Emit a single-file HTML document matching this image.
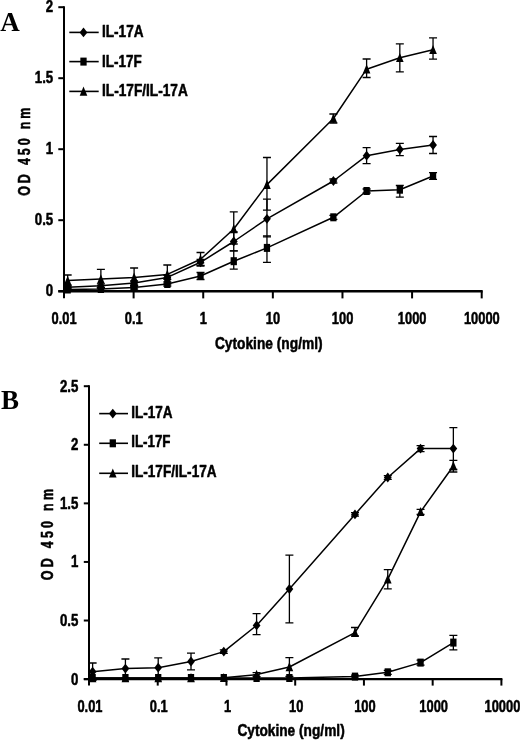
<!DOCTYPE html>
<html><head><meta charset="utf-8"><title>Figure</title>
<style>html,body{margin:0;padding:0;background:#fff}svg{display:block}</style>
</head><body>
<svg width="520" height="740" viewBox="0 0 520 740" fill="#000">
<rect width="520" height="740" fill="#fff"/>
<path d="M64.0,6.2V298.2" stroke="#000" stroke-width="2" fill="none"/>
<path d="M58.3,291.2H482.7" stroke="#000" stroke-width="2.4" fill="none"/>
<path d="M58.3,291.2H64.0" stroke="#000" stroke-width="2"/>
<text transform="translate(53.2,296.4) scale(0.78,1)" text-anchor="end" font-size="17" font-family="Liberation Sans, Arial, sans-serif" font-weight="bold" stroke="#000" stroke-width="0.55" stroke-linejoin="round" >0</text>
<path d="M58.3,220.2H64.0" stroke="#000" stroke-width="2"/>
<text transform="translate(53.2,225.4) scale(0.78,1)" text-anchor="end" font-size="17" font-family="Liberation Sans, Arial, sans-serif" font-weight="bold" stroke="#000" stroke-width="0.55" stroke-linejoin="round" >0.5</text>
<path d="M58.3,149.2H64.0" stroke="#000" stroke-width="2"/>
<text transform="translate(53.2,154.4) scale(0.78,1)" text-anchor="end" font-size="17" font-family="Liberation Sans, Arial, sans-serif" font-weight="bold" stroke="#000" stroke-width="0.55" stroke-linejoin="round" >1</text>
<path d="M58.3,78.2H64.0" stroke="#000" stroke-width="2"/>
<text transform="translate(53.2,83.4) scale(0.78,1)" text-anchor="end" font-size="17" font-family="Liberation Sans, Arial, sans-serif" font-weight="bold" stroke="#000" stroke-width="0.55" stroke-linejoin="round" >1.5</text>
<path d="M58.3,7.2H64.0" stroke="#000" stroke-width="2"/>
<text transform="translate(53.2,12.4) scale(0.78,1)" text-anchor="end" font-size="17" font-family="Liberation Sans, Arial, sans-serif" font-weight="bold" stroke="#000" stroke-width="0.55" stroke-linejoin="round" >2</text>
<text transform="translate(64.1,323.9) scale(0.745,1)" text-anchor="middle" font-size="17.3" font-family="Liberation Sans, Arial, sans-serif" font-weight="bold" stroke="#000" stroke-width="0.55" stroke-linejoin="round" >0.01</text>
<path d="M133.62,291.2V298.4" stroke="#000" stroke-width="2"/>
<text transform="translate(133.72,323.9) scale(0.745,1)" text-anchor="middle" font-size="17.3" font-family="Liberation Sans, Arial, sans-serif" font-weight="bold" stroke="#000" stroke-width="0.55" stroke-linejoin="round" >0.1</text>
<path d="M203.23,291.2V298.4" stroke="#000" stroke-width="2"/>
<text transform="translate(203.33,323.9) scale(0.745,1)" text-anchor="middle" font-size="17.3" font-family="Liberation Sans, Arial, sans-serif" font-weight="bold" stroke="#000" stroke-width="0.55" stroke-linejoin="round" >1</text>
<path d="M272.85,291.2V298.4" stroke="#000" stroke-width="2"/>
<text transform="translate(272.95,323.9) scale(0.745,1)" text-anchor="middle" font-size="17.3" font-family="Liberation Sans, Arial, sans-serif" font-weight="bold" stroke="#000" stroke-width="0.55" stroke-linejoin="round" >10</text>
<path d="M342.47,291.2V298.4" stroke="#000" stroke-width="2"/>
<text transform="translate(342.57,323.9) scale(0.745,1)" text-anchor="middle" font-size="17.3" font-family="Liberation Sans, Arial, sans-serif" font-weight="bold" stroke="#000" stroke-width="0.55" stroke-linejoin="round" >100</text>
<path d="M412.08,291.2V298.4" stroke="#000" stroke-width="2"/>
<text transform="translate(412.18,323.9) scale(0.745,1)" text-anchor="middle" font-size="17.3" font-family="Liberation Sans, Arial, sans-serif" font-weight="bold" stroke="#000" stroke-width="0.55" stroke-linejoin="round" >1000</text>
<path d="M481.7,291.2V298.4" stroke="#000" stroke-width="2"/>
<text transform="translate(481.8,323.9) scale(0.745,1)" text-anchor="middle" font-size="17.3" font-family="Liberation Sans, Arial, sans-serif" font-weight="bold" stroke="#000" stroke-width="0.55" stroke-linejoin="round" >10000</text>
<text x="214.9" y="348.7" font-size="17" font-family="Liberation Sans, Arial, sans-serif" font-weight="bold" stroke="#000" stroke-width="0.55" stroke-linejoin="round" textLength="107.7" lengthAdjust="spacingAndGlyphs">Cytokine (ng/ml)</text>
<text transform="translate(30.3,195.8) rotate(-90) scale(0.78,1.065)" font-size="16" font-family="Liberation Sans, Arial, sans-serif" font-weight="bold" stroke="#000" stroke-width="0.55" stroke-linejoin="round" letter-spacing="3.7">OD 450 nm</text>
<text x="0.3" y="31" font-size="27" font-family="Liberation Serif, Times New Roman, serif" font-weight="bold">A</text>
<polyline points="67.67,289.5 100.88,289 134.1,287.5 167.32,284 200.53,276 233.75,261.2 266.96,247.9 333.39,217.3 366.61,191 399.82,189.7 433.04,176" fill="none" stroke="#000" stroke-width="1.5" stroke-linejoin="round"/>
<path d="M67.67,288V291M63.67,288H71.67M63.67,291H71.67" fill="none" stroke="#000" stroke-width="1.3"/>
<path d="M100.88,287.5V290.5M96.88,287.5H104.88M96.88,290.5H104.88" fill="none" stroke="#000" stroke-width="1.3"/>
<path d="M134.1,286V289M130.1,286H138.1M130.1,289H138.1" fill="none" stroke="#000" stroke-width="1.3"/>
<path d="M167.32,282V286M163.32,282H171.32M163.32,286H171.32" fill="none" stroke="#000" stroke-width="1.3"/>
<path d="M200.53,272.5V279.5M196.53,272.5H204.53M196.53,279.5H204.53" fill="none" stroke="#000" stroke-width="1.3"/>
<path d="M233.75,250.8V269.2M229.75,250.8H237.75M229.75,269.2H237.75" fill="none" stroke="#000" stroke-width="1.3"/>
<path d="M266.96,235.9V262.3M262.96,235.9H270.96M262.96,262.3H270.96" fill="none" stroke="#000" stroke-width="1.3"/>
<path d="M333.39,215.3V219.3M329.39,215.3H337.39M329.39,219.3H337.39" fill="none" stroke="#000" stroke-width="1.3"/>
<path d="M366.61,189V193M362.61,189H370.61M362.61,193H370.61" fill="none" stroke="#000" stroke-width="1.3"/>
<path d="M399.82,185.5V197.2M395.82,185.5H403.82M395.82,197.2H403.82" fill="none" stroke="#000" stroke-width="1.3"/>
<path d="M433.04,172.6V179.4M429.04,172.6H437.04M429.04,179.4H437.04" fill="none" stroke="#000" stroke-width="1.3"/>
<rect x="64.52" y="285.5" width="6.3" height="8"/>
<rect x="97.73" y="285" width="6.3" height="8"/>
<rect x="130.95" y="283.5" width="6.3" height="8"/>
<rect x="164.17" y="280" width="6.3" height="8"/>
<rect x="197.38" y="272" width="6.3" height="8"/>
<rect x="230.6" y="257.2" width="6.3" height="8"/>
<rect x="263.81" y="243.9" width="6.3" height="8"/>
<rect x="330.24" y="213.3" width="6.3" height="8"/>
<rect x="363.46" y="187" width="6.3" height="8"/>
<rect x="396.67" y="185.7" width="6.3" height="8"/>
<rect x="429.89" y="172" width="6.3" height="8"/>
<polyline points="67.67,287.2 100.88,285.8 134.1,283 167.32,277.4 200.53,262.3 233.75,241.5 266.96,218.8 333.39,181 366.61,155.7 399.82,149.5 433.04,145" fill="none" stroke="#000" stroke-width="1.5" stroke-linejoin="round"/>
<path d="M67.67,285.2V289.2M63.67,285.2H71.67M63.67,289.2H71.67" fill="none" stroke="#000" stroke-width="1.3"/>
<path d="M100.88,283.8V287.8M96.88,283.8H104.88M96.88,287.8H104.88" fill="none" stroke="#000" stroke-width="1.3"/>
<path d="M134.1,281V285M130.1,281H138.1M130.1,285H138.1" fill="none" stroke="#000" stroke-width="1.3"/>
<path d="M167.32,275.4V279.4M163.32,275.4H171.32M163.32,279.4H171.32" fill="none" stroke="#000" stroke-width="1.3"/>
<path d="M200.53,259.3V265.3M196.53,259.3H204.53M196.53,265.3H204.53" fill="none" stroke="#000" stroke-width="1.3"/>
<path d="M233.75,232V250.8M229.75,232H237.75M229.75,250.8H237.75" fill="none" stroke="#000" stroke-width="1.3"/>
<path d="M266.96,199.1V236.9M262.96,199.1H270.96M262.96,236.9H270.96" fill="none" stroke="#000" stroke-width="1.3"/>
<path d="M333.39,179V183M329.39,179H337.39M329.39,183H337.39" fill="none" stroke="#000" stroke-width="1.3"/>
<path d="M366.61,147.7V163.7M362.61,147.7H370.61M362.61,163.7H370.61" fill="none" stroke="#000" stroke-width="1.3"/>
<path d="M399.82,143.3V155.7M395.82,143.3H403.82M395.82,155.7H403.82" fill="none" stroke="#000" stroke-width="1.3"/>
<path d="M433.04,136.5V153.5M429.04,136.5H437.04M429.04,153.5H437.04" fill="none" stroke="#000" stroke-width="1.3"/>
<polygon points="67.67,282.3 71.57,287.2 67.67,292.1 63.77,287.2"/>
<polygon points="100.88,280.9 104.78,285.8 100.88,290.7 96.98,285.8"/>
<polygon points="134.1,278.1 138,283 134.1,287.9 130.2,283"/>
<polygon points="167.32,272.5 171.22,277.4 167.32,282.3 163.42,277.4"/>
<polygon points="200.53,257.4 204.43,262.3 200.53,267.2 196.63,262.3"/>
<polygon points="233.75,236.6 237.65,241.5 233.75,246.4 229.85,241.5"/>
<polygon points="266.96,213.9 270.86,218.8 266.96,223.7 263.06,218.8"/>
<polygon points="333.39,176.1 337.29,181 333.39,185.9 329.49,181"/>
<polygon points="366.61,150.8 370.51,155.7 366.61,160.6 362.71,155.7"/>
<polygon points="399.82,144.6 403.72,149.5 399.82,154.4 395.92,149.5"/>
<polygon points="433.04,140.1 436.94,145 433.04,149.9 429.14,145"/>
<polyline points="67.67,280.6 100.88,279.1 134.1,277.5 167.32,274.4 200.53,259.3 233.75,229 266.96,184.6 333.39,118.5 366.61,69.2 399.82,57.8 433.04,49.8" fill="none" stroke="#000" stroke-width="1.5" stroke-linejoin="round"/>
<path d="M67.67,275V286M63.67,275H71.67M63.67,286H71.67" fill="none" stroke="#000" stroke-width="1.3"/>
<path d="M100.88,269.4V288M96.88,269.4H104.88M96.88,288H104.88" fill="none" stroke="#000" stroke-width="1.3"/>
<path d="M134.1,268V286M130.1,268H138.1M130.1,286H138.1" fill="none" stroke="#000" stroke-width="1.3"/>
<path d="M167.32,265V284M163.32,265H171.32M163.32,284H171.32" fill="none" stroke="#000" stroke-width="1.3"/>
<path d="M200.53,252.5V266M196.53,252.5H204.53M196.53,266H204.53" fill="none" stroke="#000" stroke-width="1.3"/>
<path d="M233.75,211.8V244M229.75,211.8H237.75M229.75,244H237.75" fill="none" stroke="#000" stroke-width="1.3"/>
<path d="M266.96,157.5V210.2M262.96,157.5H270.96M262.96,210.2H270.96" fill="none" stroke="#000" stroke-width="1.3"/>
<path d="M333.39,114V123M329.39,114H337.39M329.39,123H337.39" fill="none" stroke="#000" stroke-width="1.3"/>
<path d="M366.61,59V77.5M362.61,59H370.61M362.61,77.5H370.61" fill="none" stroke="#000" stroke-width="1.3"/>
<path d="M399.82,43.8V71.8M395.82,43.8H403.82M395.82,71.8H403.82" fill="none" stroke="#000" stroke-width="1.3"/>
<path d="M433.04,37.8V59.2M429.04,37.8H437.04M429.04,59.2H437.04" fill="none" stroke="#000" stroke-width="1.3"/>
<polygon points="67.67,275.7 71.47,284.9 63.87,284.9"/>
<polygon points="100.88,274.2 104.68,283.4 97.08,283.4"/>
<polygon points="134.1,272.6 137.9,281.8 130.3,281.8"/>
<polygon points="167.32,269.5 171.12,278.7 163.52,278.7"/>
<polygon points="200.53,254.4 204.33,263.6 196.73,263.6"/>
<polygon points="233.75,224.1 237.55,233.3 229.95,233.3"/>
<polygon points="266.96,179.7 270.76,188.9 263.16,188.9"/>
<polygon points="333.39,113.6 337.19,122.8 329.59,122.8"/>
<polygon points="366.61,64.3 370.41,73.5 362.81,73.5"/>
<polygon points="399.82,52.9 403.62,62.1 396.02,62.1"/>
<polygon points="433.04,44.9 436.84,54.1 429.24,54.1"/>
<line x1="69.3" y1="32.4" x2="98.7" y2="32.4" stroke="#000" stroke-width="1.6"/>
<polygon points="83.5,27.5 87.4,32.4 83.5,37.3 79.6,32.4"/>
<text x="102" y="37" font-size="17" font-family="Liberation Sans, Arial, sans-serif" font-weight="bold" stroke="#000" stroke-width="0.55" stroke-linejoin="round" textLength="41.6" lengthAdjust="spacingAndGlyphs">IL-17A</text>
<line x1="69.3" y1="61.6" x2="98.7" y2="61.6" stroke="#000" stroke-width="1.6"/>
<rect x="80.35" y="57.6" width="6.3" height="8"/>
<text x="102" y="66.8" font-size="17" font-family="Liberation Sans, Arial, sans-serif" font-weight="bold" stroke="#000" stroke-width="0.55" stroke-linejoin="round" textLength="39.6" lengthAdjust="spacingAndGlyphs">IL-17F</text>
<line x1="69.3" y1="91.4" x2="98.7" y2="91.4" stroke="#000" stroke-width="1.6"/>
<polygon points="83.5,86.5 87.3,95.7 79.7,95.7"/>
<text x="102" y="96.2" font-size="17" font-family="Liberation Sans, Arial, sans-serif" font-weight="bold" stroke="#000" stroke-width="0.55" stroke-linejoin="round" textLength="85.8" lengthAdjust="spacingAndGlyphs">IL-17F/IL-17A</text>
<path d="M89.0,385.2V685.4" stroke="#000" stroke-width="2" fill="none"/>
<path d="M83.8,679.1H502.4" stroke="#000" stroke-width="2.4" fill="none"/>
<path d="M83.8,679.1H89.0" stroke="#000" stroke-width="2"/>
<text transform="translate(78.4,684.5) scale(0.78,1)" text-anchor="end" font-size="17" font-family="Liberation Sans, Arial, sans-serif" font-weight="bold" stroke="#000" stroke-width="0.55" stroke-linejoin="round" >0</text>
<path d="M83.8,620.52H89.0" stroke="#000" stroke-width="2"/>
<text transform="translate(78.4,625.92) scale(0.78,1)" text-anchor="end" font-size="17" font-family="Liberation Sans, Arial, sans-serif" font-weight="bold" stroke="#000" stroke-width="0.55" stroke-linejoin="round" >0.5</text>
<path d="M83.8,561.94H89.0" stroke="#000" stroke-width="2"/>
<text transform="translate(78.4,567.34) scale(0.78,1)" text-anchor="end" font-size="17" font-family="Liberation Sans, Arial, sans-serif" font-weight="bold" stroke="#000" stroke-width="0.55" stroke-linejoin="round" >1</text>
<path d="M83.8,503.36H89.0" stroke="#000" stroke-width="2"/>
<text transform="translate(78.4,508.76) scale(0.78,1)" text-anchor="end" font-size="17" font-family="Liberation Sans, Arial, sans-serif" font-weight="bold" stroke="#000" stroke-width="0.55" stroke-linejoin="round" >1.5</text>
<path d="M83.8,444.78H89.0" stroke="#000" stroke-width="2"/>
<text transform="translate(78.4,450.18) scale(0.78,1)" text-anchor="end" font-size="17" font-family="Liberation Sans, Arial, sans-serif" font-weight="bold" stroke="#000" stroke-width="0.55" stroke-linejoin="round" >2</text>
<path d="M83.8,386.2H89.0" stroke="#000" stroke-width="2"/>
<text transform="translate(78.4,391.6) scale(0.78,1)" text-anchor="end" font-size="17" font-family="Liberation Sans, Arial, sans-serif" font-weight="bold" stroke="#000" stroke-width="0.55" stroke-linejoin="round" >2.5</text>
<text transform="translate(90,711.6) scale(0.745,1)" text-anchor="middle" font-size="17.3" font-family="Liberation Sans, Arial, sans-serif" font-weight="bold" stroke="#000" stroke-width="0.55" stroke-linejoin="round" >0.01</text>
<path d="M157.73,679.1V685.6" stroke="#000" stroke-width="2"/>
<text transform="translate(158.73,711.6) scale(0.745,1)" text-anchor="middle" font-size="17.3" font-family="Liberation Sans, Arial, sans-serif" font-weight="bold" stroke="#000" stroke-width="0.55" stroke-linejoin="round" >0.1</text>
<path d="M226.47,679.1V685.6" stroke="#000" stroke-width="2"/>
<text transform="translate(227.47,711.6) scale(0.745,1)" text-anchor="middle" font-size="17.3" font-family="Liberation Sans, Arial, sans-serif" font-weight="bold" stroke="#000" stroke-width="0.55" stroke-linejoin="round" >1</text>
<path d="M295.2,679.1V685.6" stroke="#000" stroke-width="2"/>
<text transform="translate(296.2,711.6) scale(0.745,1)" text-anchor="middle" font-size="17.3" font-family="Liberation Sans, Arial, sans-serif" font-weight="bold" stroke="#000" stroke-width="0.55" stroke-linejoin="round" >10</text>
<path d="M363.93,679.1V685.6" stroke="#000" stroke-width="2"/>
<text transform="translate(364.93,711.6) scale(0.745,1)" text-anchor="middle" font-size="17.3" font-family="Liberation Sans, Arial, sans-serif" font-weight="bold" stroke="#000" stroke-width="0.55" stroke-linejoin="round" >100</text>
<path d="M432.67,679.1V685.6" stroke="#000" stroke-width="2"/>
<text transform="translate(433.67,711.6) scale(0.745,1)" text-anchor="middle" font-size="17.3" font-family="Liberation Sans, Arial, sans-serif" font-weight="bold" stroke="#000" stroke-width="0.55" stroke-linejoin="round" >1000</text>
<path d="M501.4,679.1V685.6" stroke="#000" stroke-width="2"/>
<text transform="translate(502.4,711.6) scale(0.745,1)" text-anchor="middle" font-size="17.3" font-family="Liberation Sans, Arial, sans-serif" font-weight="bold" stroke="#000" stroke-width="0.55" stroke-linejoin="round" >10000</text>
<text x="237.4" y="735.5" font-size="17" font-family="Liberation Sans, Arial, sans-serif" font-weight="bold" stroke="#000" stroke-width="0.55" stroke-linejoin="round" textLength="107.3" lengthAdjust="spacingAndGlyphs">Cytokine (ng/ml)</text>
<text transform="translate(52.9,580.3) rotate(-90) scale(0.78,1.065)" font-size="16" font-family="Liberation Sans, Arial, sans-serif" font-weight="bold" stroke="#000" stroke-width="0.55" stroke-linejoin="round" letter-spacing="4.2">OD 450 nm</text>
<text x="1" y="409" font-size="27" font-family="Liberation Serif, Times New Roman, serif" font-weight="bold">B</text>
<polyline points="92.62,678 125.42,678 158.21,678 191,678 223.8,678 256.59,678 289.39,678 354.98,676.6 387.77,672.3 420.56,662.6 453.36,642.6" fill="none" stroke="#000" stroke-width="1.5" stroke-linejoin="round"/>
<path d="M354.98,675.1V678.1M350.98,675.1H358.98M350.98,678.1H358.98" fill="none" stroke="#000" stroke-width="1.3"/>
<path d="M387.77,670.3V674.3M383.77,670.3H391.77M383.77,674.3H391.77" fill="none" stroke="#000" stroke-width="1.3"/>
<path d="M420.56,660.1V665.1M416.56,660.1H424.56M416.56,665.1H424.56" fill="none" stroke="#000" stroke-width="1.3"/>
<path d="M453.36,635.3V649.9M449.36,635.3H457.36M449.36,649.9H457.36" fill="none" stroke="#000" stroke-width="1.3"/>
<rect x="89.47" y="674" width="6.3" height="8"/>
<rect x="122.27" y="674" width="6.3" height="8"/>
<rect x="155.06" y="674" width="6.3" height="8"/>
<rect x="187.85" y="674" width="6.3" height="8"/>
<rect x="220.65" y="674" width="6.3" height="8"/>
<rect x="253.44" y="674" width="6.3" height="8"/>
<rect x="286.24" y="674" width="6.3" height="8"/>
<rect x="351.83" y="672.6" width="6.3" height="8"/>
<rect x="384.62" y="668.3" width="6.3" height="8"/>
<rect x="417.41" y="658.6" width="6.3" height="8"/>
<rect x="450.21" y="638.6" width="6.3" height="8"/>
<polyline points="92.62,678 125.42,678 158.21,678 191,678 223.8,677.8 256.59,674.6 289.39,667 354.98,632.7 387.77,579.2 420.56,511.8 453.36,466" fill="none" stroke="#000" stroke-width="1.5" stroke-linejoin="round"/>
<path d="M256.59,672.6V676.6M252.59,672.6H260.59M252.59,676.6H260.59" fill="none" stroke="#000" stroke-width="1.3"/>
<path d="M289.39,657.7V676.3M285.39,657.7H293.39M285.39,676.3H293.39" fill="none" stroke="#000" stroke-width="1.3"/>
<path d="M354.98,627.5V636M350.98,627.5H358.98M350.98,636H358.98" fill="none" stroke="#000" stroke-width="1.3"/>
<path d="M387.77,569.6V588.8M383.77,569.6H391.77M383.77,588.8H391.77" fill="none" stroke="#000" stroke-width="1.3"/>
<path d="M420.56,509.3V514.3M416.56,509.3H424.56M416.56,514.3H424.56" fill="none" stroke="#000" stroke-width="1.3"/>
<path d="M453.36,460.4V472M449.36,460.4H457.36M449.36,472H457.36" fill="none" stroke="#000" stroke-width="1.3"/>
<polygon points="92.62,673.1 96.42,682.3 88.82,682.3"/>
<polygon points="125.42,673.1 129.22,682.3 121.62,682.3"/>
<polygon points="158.21,673.1 162.01,682.3 154.41,682.3"/>
<polygon points="191,673.1 194.8,682.3 187.2,682.3"/>
<polygon points="223.8,672.9 227.6,682.1 220,682.1"/>
<polygon points="256.59,669.7 260.39,678.9 252.79,678.9"/>
<polygon points="289.39,662.1 293.19,671.3 285.59,671.3"/>
<polygon points="354.98,627.8 358.78,637 351.18,637"/>
<polygon points="387.77,574.3 391.57,583.5 383.97,583.5"/>
<polygon points="420.56,506.9 424.36,516.1 416.76,516.1"/>
<polygon points="453.36,461.1 457.16,470.3 449.56,470.3"/>
<polyline points="92.62,671.7 125.42,668.6 158.21,667.7 191,661.5 223.8,651.6 256.59,625.4 289.39,589 354.98,514.4 387.77,477.5 420.56,448.6 453.36,448.6" fill="none" stroke="#000" stroke-width="1.5" stroke-linejoin="round"/>
<path d="M92.62,663V680.4M88.62,663H96.62M88.62,680.4H96.62" fill="none" stroke="#000" stroke-width="1.3"/>
<path d="M125.42,659V678.2M121.42,659H129.42M121.42,678.2H129.42" fill="none" stroke="#000" stroke-width="1.3"/>
<path d="M158.21,657.8V677.6M154.21,657.8H162.21M154.21,677.6H162.21" fill="none" stroke="#000" stroke-width="1.3"/>
<path d="M191,653.2V669.8M187,653.2H195M187,669.8H195" fill="none" stroke="#000" stroke-width="1.3"/>
<path d="M223.8,649.8V653.4M219.8,649.8H227.8M219.8,653.4H227.8" fill="none" stroke="#000" stroke-width="1.3"/>
<path d="M256.59,613.7V634.6M252.59,613.7H260.59M252.59,634.6H260.59" fill="none" stroke="#000" stroke-width="1.3"/>
<path d="M289.39,555.1V622.9M285.39,555.1H293.39M285.39,622.9H293.39" fill="none" stroke="#000" stroke-width="1.3"/>
<path d="M354.98,512.6V516.2M350.98,512.6H358.98M350.98,516.2H358.98" fill="none" stroke="#000" stroke-width="1.3"/>
<path d="M387.77,475.7V479.3M383.77,475.7H391.77M383.77,479.3H391.77" fill="none" stroke="#000" stroke-width="1.3"/>
<path d="M420.56,445.6V451.6M416.56,445.6H424.56M416.56,451.6H424.56" fill="none" stroke="#000" stroke-width="1.3"/>
<path d="M453.36,427.6V469.5M449.36,427.6H457.36M449.36,469.5H457.36" fill="none" stroke="#000" stroke-width="1.3"/>
<polygon points="92.62,666.8 96.52,671.7 92.62,676.6 88.72,671.7"/>
<polygon points="125.42,663.7 129.32,668.6 125.42,673.5 121.52,668.6"/>
<polygon points="158.21,662.8 162.11,667.7 158.21,672.6 154.31,667.7"/>
<polygon points="191,656.6 194.9,661.5 191,666.4 187.1,661.5"/>
<polygon points="223.8,646.7 227.7,651.6 223.8,656.5 219.9,651.6"/>
<polygon points="256.59,620.5 260.49,625.4 256.59,630.3 252.69,625.4"/>
<polygon points="289.39,584.1 293.29,589 289.39,593.9 285.49,589"/>
<polygon points="354.98,509.5 358.88,514.4 354.98,519.3 351.08,514.4"/>
<polygon points="387.77,472.6 391.67,477.5 387.77,482.4 383.87,477.5"/>
<polygon points="420.56,443.7 424.46,448.6 420.56,453.5 416.66,448.6"/>
<polygon points="453.36,443.7 457.26,448.6 453.36,453.5 449.46,448.6"/>
<line x1="99.2" y1="413.6" x2="128" y2="413.6" stroke="#000" stroke-width="1.6"/>
<polygon points="112.8,408.7 116.7,413.6 112.8,418.5 108.9,413.6"/>
<text x="131.2" y="417.5" font-size="17" font-family="Liberation Sans, Arial, sans-serif" font-weight="bold" stroke="#000" stroke-width="0.55" stroke-linejoin="round" textLength="41.4" lengthAdjust="spacingAndGlyphs">IL-17A</text>
<line x1="99.2" y1="443.3" x2="128" y2="443.3" stroke="#000" stroke-width="1.6"/>
<rect x="109.65" y="439.3" width="6.3" height="8"/>
<text x="131.2" y="447.3" font-size="17" font-family="Liberation Sans, Arial, sans-serif" font-weight="bold" stroke="#000" stroke-width="0.55" stroke-linejoin="round" textLength="39.3" lengthAdjust="spacingAndGlyphs">IL-17F</text>
<line x1="99.2" y1="473.3" x2="128" y2="473.3" stroke="#000" stroke-width="1.6"/>
<polygon points="112.8,468.4 116.6,477.6 109,477.6"/>
<text x="131.2" y="477.4" font-size="17" font-family="Liberation Sans, Arial, sans-serif" font-weight="bold" stroke="#000" stroke-width="0.55" stroke-linejoin="round" textLength="85.4" lengthAdjust="spacingAndGlyphs">IL-17F/IL-17A</text>
</svg>
</body></html>
